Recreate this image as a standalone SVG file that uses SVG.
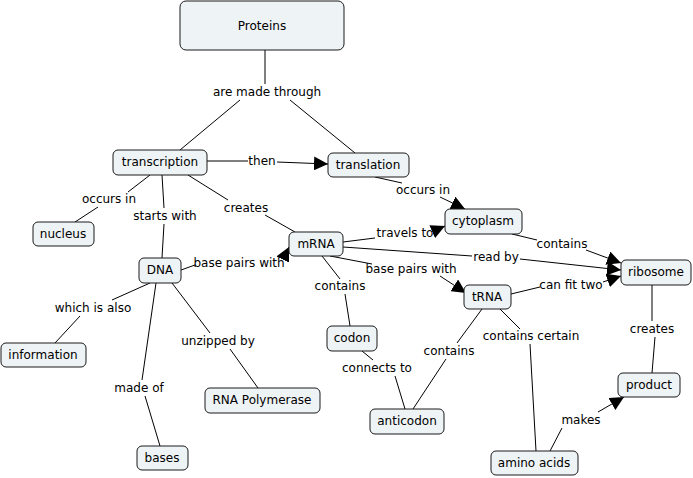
<svg xmlns="http://www.w3.org/2000/svg" width="693" height="478" viewBox="0 0 693 478">
<style>
.n rect{fill:#eef3f5;stroke:#1a1a1a;stroke-width:1}
text{font-family:"DejaVu Sans",Verdana,sans-serif;font-size:12px;fill:#000;text-anchor:middle;dominant-baseline:central}
.c line{stroke:#000;stroke-width:1}
.a{marker-end:url(#ar)}
</style>
<defs><marker id="ar" viewBox="0 0 10 10" refX="10" refY="5" markerWidth="14" markerHeight="14" markerUnits="userSpaceOnUse" orient="auto"><path d="M0,0L10,5L0,10z" fill="#000"/></marker></defs>
<rect width="693" height="478" fill="#fff"/>
<g class="c">
<line x1="265" y1="50" x2="265" y2="84"/>
<line x1="240" y1="100" x2="180" y2="150"/>
<line x1="290" y1="100" x2="355" y2="153"/>
<line x1="207" y1="161" x2="248" y2="161"/>
<line class="a" x1="277" y1="162" x2="328" y2="164"/>
<line x1="150" y1="175" x2="128" y2="192"/>
<line x1="98" y1="207" x2="75" y2="222"/>
<line x1="162" y1="175" x2="164" y2="208"/>
<line x1="164" y1="224" x2="162" y2="258"/>
<line x1="188" y1="175" x2="228" y2="200"/>
<line x1="265" y1="215" x2="295" y2="232"/>
<line x1="375" y1="177" x2="402" y2="183"/>
<line class="a" x1="440" y1="197" x2="465" y2="209"/>
<line x1="343" y1="242" x2="375" y2="238"/>
<line class="a" x1="436" y1="230" x2="445" y2="226"/>
<line x1="512" y1="234" x2="537" y2="240"/>
<line class="a" x1="586" y1="250" x2="621" y2="263"/>
<line x1="343" y1="247" x2="472" y2="256"/>
<line class="a" x1="520" y1="259" x2="621" y2="270"/>
<line x1="181" y1="270" x2="195" y2="265"/>
<line class="a" x1="283" y1="259" x2="289" y2="247"/>
<line x1="330" y1="256" x2="372" y2="264"/>
<line class="a" x1="440" y1="276" x2="466" y2="293"/>
<line x1="511" y1="294" x2="540" y2="287"/>
<line class="a" x1="603" y1="282" x2="621" y2="276"/>
<line x1="322" y1="256" x2="340" y2="279"/>
<line x1="345" y1="294" x2="350" y2="326"/>
<line x1="150" y1="283" x2="112" y2="300"/>
<line x1="80" y1="316" x2="55" y2="343"/>
<line x1="172" y1="283" x2="210" y2="333"/>
<line x1="230" y1="349" x2="258" y2="388"/>
<line x1="482" y1="309" x2="457" y2="343"/>
<line x1="446" y1="359" x2="413" y2="409"/>
<line x1="500" y1="309" x2="520" y2="329"/>
<line x1="530" y1="344" x2="536" y2="451"/>
<line x1="652" y1="285" x2="652" y2="321"/>
<line x1="655" y1="337" x2="652" y2="373"/>
<line x1="362" y1="351" x2="373" y2="360"/>
<line x1="395" y1="376" x2="405" y2="409"/>
<line x1="156" y1="283" x2="142" y2="380"/>
<line x1="145" y1="396" x2="160" y2="446"/>
<line x1="550" y1="451" x2="562" y2="428"/>
<line class="a" x1="598" y1="412" x2="624" y2="397"/>
</g>
<g>
<text x="267" y="92">are made through</text>
<text x="262" y="161">then</text>
<text x="109" y="199">occurs in</text>
<text x="165" y="216">starts with</text>
<text x="246" y="208">creates</text>
<text x="423" y="190">occurs in</text>
<text x="405" y="233">travels to</text>
<text x="562" y="244">contains</text>
<text x="496" y="257">read by</text>
<text x="239" y="263">base pairs with</text>
<text x="411" y="269">base pairs with</text>
<text x="571" y="285">can fit two</text>
<text x="340" y="286">contains</text>
<text x="93" y="308">which is also</text>
<text x="218" y="341">unzipped by</text>
<text x="449" y="351">contains</text>
<text x="531" y="336">contains certain</text>
<text x="652" y="329">creates</text>
<text x="377" y="368">connects to</text>
<text x="139" y="388">made of</text>
<text x="581" y="420">makes</text>
</g>
<g id="proteins" class="n"><rect x="180" y="1" width="164" height="49" rx="6"/><text x="262" y="26">Proteins</text></g>
<g id="transcription" class="n"><rect x="113" y="150" width="94" height="25" rx="5"/><text x="160" y="162">transcription</text></g>
<g id="translation" class="n"><rect x="328" y="153" width="81" height="24" rx="5"/><text x="368" y="165">translation</text></g>
<g id="nucleus" class="n"><rect x="33" y="222" width="61" height="24" rx="5"/><text x="63" y="234">nucleus</text></g>
<g id="dna" class="n"><rect x="139" y="258" width="42" height="25" rx="5"/><text x="160" y="270">DNA</text></g>
<g id="mrna" class="n"><rect x="289" y="232" width="54" height="24" rx="5"/><text x="316" y="244">mRNA</text></g>
<g id="cytoplasm" class="n"><rect x="445" y="209" width="77" height="25" rx="5"/><text x="483" y="221">cytoplasm</text></g>
<g id="ribosome" class="n"><rect x="621" y="260" width="70" height="25" rx="5"/><text x="656" y="272">ribosome</text></g>
<g id="trna" class="n"><rect x="464" y="285" width="47" height="24" rx="5"/><text x="487" y="297">tRNA</text></g>
<g id="information" class="n"><rect x="1" y="343" width="85" height="24" rx="5"/><text x="43" y="355">information</text></g>
<g id="codon" class="n"><rect x="327" y="326" width="50" height="25" rx="5"/><text x="352" y="338">codon</text></g>
<g id="rnapol" class="n"><rect x="205" y="388" width="115" height="25" rx="5"/><text x="262" y="400">RNA Polymerase</text></g>
<g id="anticodon" class="n"><rect x="370" y="409" width="74" height="25" rx="5"/><text x="407" y="421">anticodon</text></g>
<g id="product" class="n"><rect x="618" y="373" width="62" height="24" rx="5"/><text x="649" y="385">product</text></g>
<g id="bases" class="n"><rect x="137" y="446" width="51" height="24" rx="5"/><text x="162" y="458">bases</text></g>
<g id="aminoacids" class="n"><rect x="491" y="451" width="87" height="24" rx="5"/><text x="534" y="463">amino acids</text></g>
</svg>
